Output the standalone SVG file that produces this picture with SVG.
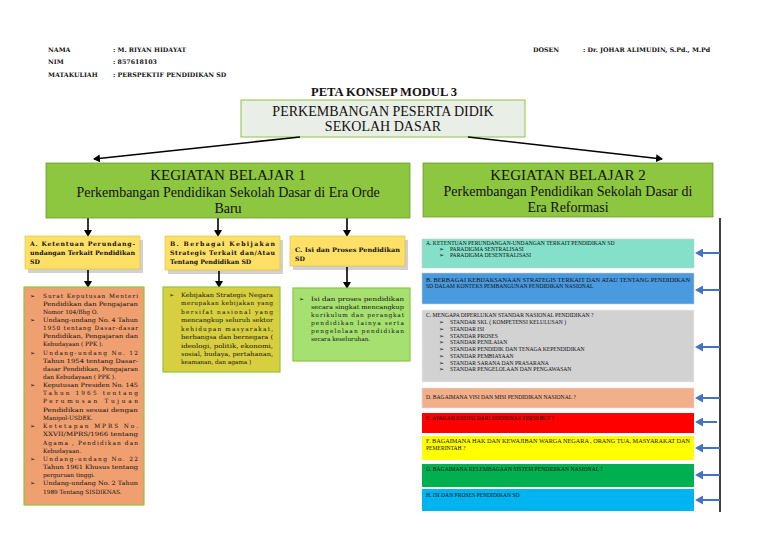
<svg xmlns="http://www.w3.org/2000/svg" width="768" height="543" viewBox="0 0 768 543">
<style>
text{font-family:"Liberation Serif","DejaVu Serif",serif;fill:#111}
.h{font-size:6.3px;font-weight:bold;font-family:"DejaVu Serif",serif}
.big{font-size:14px}
.sm{font-size:5.8px;font-family:"DejaVu Serif",serif}
.yb{font-size:6.2px;font-weight:bold;font-family:"DejaVu Serif",serif}
.r{font-size:5.6px}
.c{stroke:#000;stroke-width:1.6;fill:none}
.ba{stroke:#4472c4;stroke-width:2;fill:none}
.sh{fill:#000;opacity:.18}
</style>
<defs>
<marker id="ak" markerWidth="8" markerHeight="8" refX="6" refY="4" orient="auto" markerUnits="userSpaceOnUse"><path d="M0,0L7,4L0,8z" fill="#000"/></marker>
<marker id="ab" markerWidth="9" markerHeight="9" refX="6" refY="4.5" orient="auto" markerUnits="userSpaceOnUse"><path d="M0,0L8,4.5L0,9z" fill="#4472c4"/></marker>
</defs>
<rect width="768" height="543" fill="#fff"/>
<g id="header">
<text class="h" x="48" y="52">NAMA</text><text class="h" x="113" y="52">: M. RIYAN HIDAYAT</text>
<text class="h" x="48" y="64">NIM</text><text class="h" x="113" y="64">: 857618103</text>
<text class="h" x="48" y="77">MATAKULIAH</text><text class="h" x="113" y="77">: PERSPEKTIF PENDIDIKAN SD</text>
<text class="h" x="533" y="52">DOSEN</text><text class="h" x="583" y="52">: Dr. JOHAR ALIMUDIN, S.Pd., M.Pd</text>
<text x="384" y="96" text-anchor="middle" font-size="12" font-weight="bold" font-family="DejaVu Serif, serif" textLength="146" lengthAdjust="spacingAndGlyphs">PETA KONSEP MODUL 3</text>
</g>
<g id="root">
<rect x="241" y="100" width="284" height="37" fill="#e9eee6" stroke="#8cc63f" stroke-width="1"/>
<text class="big" x="383" y="116" text-anchor="middle">PERKEMBANGAN PESERTA DIDIK</text>
<text class="big" x="383" y="131" text-anchor="middle">SEKOLAH DASAR</text>
</g>
<g id="connectors">
<line class="c" x1="300" y1="137" x2="94" y2="159" marker-end="url(#ak)"/>
<line class="c" x1="468" y1="137" x2="662" y2="159" marker-end="url(#ak)"/>
<line class="c" x1="88" y1="218" x2="88" y2="236" marker-end="url(#ak)"/>
<line class="c" x1="218" y1="218" x2="218" y2="236" marker-end="url(#ak)"/>
<line class="c" x1="347" y1="218" x2="347" y2="236" marker-end="url(#ak)"/>
<line class="c" x1="88" y1="270" x2="88" y2="287" marker-end="url(#ak)"/>
<line class="c" x1="219" y1="271" x2="219" y2="287" marker-end="url(#ak)"/>
<line class="c" x1="347" y1="267" x2="347" y2="288" marker-end="url(#ak)"/>
<line x1="720" y1="218" x2="720" y2="512" stroke="#000" stroke-width="1.5"/>
<line class="ba" x1="720" y1="253" x2="697" y2="253" marker-end="url(#ab)"/>
<line class="ba" x1="720" y1="290" x2="697" y2="290" marker-end="url(#ab)"/>
<line class="ba" x1="720" y1="347" x2="697" y2="347" marker-end="url(#ab)"/>
<line class="ba" x1="720" y1="398" x2="697" y2="398" marker-end="url(#ab)"/>
<line class="ba" x1="717" y1="422" x2="697" y2="422" marker-end="url(#ab)"/>
<line class="ba" x1="720" y1="448" x2="697" y2="448" marker-end="url(#ab)"/>
<line class="ba" x1="720" y1="475" x2="697" y2="475" marker-end="url(#ab)"/>
<line class="ba" x1="720" y1="500" x2="697" y2="500" marker-end="url(#ab)"/>
</g>
<g id="kb1">
<rect x="46" y="163" width="364" height="55" fill="#8dc63f" stroke="#6a9a30" stroke-width="0.8"/>
<text x="228" y="180" text-anchor="middle" font-size="15">KEGIATAN BELAJAR 1</text>
<text x="228" y="197" text-anchor="middle" font-size="14">Perkembangan Pendidikan Sekolah Dasar di Era Orde</text>
<text x="228" y="213" text-anchor="middle" font-size="14">Baru</text>
</g>
<g id="kb2">
<rect x="423" y="163" width="290" height="54" fill="#8dc63f" stroke="#6a9a30" stroke-width="0.8"/>
<text x="568" y="180" text-anchor="middle" font-size="15">KEGIATAN BELAJAR 2</text>
<text x="568" y="196" text-anchor="middle" font-size="14">Perkembangan Pendidikan Sekolah Dasar di</text>
<text x="568" y="212" text-anchor="middle" font-size="14">Era Reformasi</text>
</g>
<g id="yA">
<rect class="sh" x="28" y="240" width="115" height="33"/>
<rect x="25" y="236" width="115" height="33" fill="#ffe066" stroke="#e0b830" stroke-width="0.6"/>
<text class="yb" x="30" y="246" textLength="105" lengthAdjust="spacing">A. Ketentuan Perundang-</text>
<text class="yb" x="30" y="255" textLength="105" lengthAdjust="spacingAndGlyphs">undangan Terkait Pendidikan</text>
<text class="yb" x="30" y="264">SD</text>
</g>
<g id="yB">
<rect class="sh" x="168" y="240" width="115" height="34"/>
<rect x="165" y="236" width="115" height="34" fill="#ffe066" stroke="#e0b830" stroke-width="0.6"/>
<text class="yb" x="170" y="246" textLength="105" lengthAdjust="spacing">B. Berbagai Kebijakan</text>
<text class="yb" x="170" y="255" textLength="105" lengthAdjust="spacing">Strategis Terkait dan/Atau</text>
<text class="yb" x="170" y="264">Tentang Pendidikan SD</text>
</g>
<g id="yC">
<rect class="sh" x="293" y="240" width="115" height="30"/>
<rect x="290" y="236" width="115" height="30" fill="#ffe066" stroke="#e0b830" stroke-width="0.6"/>
<text class="yb" x="295" y="252" textLength="105" lengthAdjust="spacingAndGlyphs">C. Isi dan Proses Pendidikan</text>
<text class="yb" x="295" y="261">SD</text>
</g>
<g id="boxA">
<rect x="24" y="287" width="120" height="218" fill="#f0a070" stroke="#8cc63f" stroke-width="1.2"/>
<text class="sm" x="30" y="298">➢</text><text class="sm" x="43" y="298" textLength="95" lengthAdjust="spacing">Surat Keputusan Menteri</text>
<text class="sm" x="43" y="306" textLength="95" lengthAdjust="spacingAndGlyphs">Pendidikan dan Pengajaran</text>
<text class="sm" x="43" y="314">Nomor 104/Bhg O.</text>
<text class="sm" x="30" y="322">➢</text><text class="sm" x="43" y="322" textLength="95" lengthAdjust="spacingAndGlyphs">Undang-undang No. 4 Tahun</text>
<text class="sm" x="43" y="330" textLength="95" lengthAdjust="spacing">1950 tentang Dasar-dasar</text>
<text class="sm" x="43" y="338" textLength="95" lengthAdjust="spacingAndGlyphs">Pendidikan, Pengajaran dan</text>
<text class="sm" x="43" y="346">Kebudayaan ( PPK ).</text>
<text class="sm" x="30" y="355">➢</text><text class="sm" x="43" y="355" textLength="95" lengthAdjust="spacing">Undang-undang No. 12</text>
<text class="sm" x="43" y="363" textLength="95" lengthAdjust="spacingAndGlyphs">Tahun 1954 tentang Dasar-</text>
<text class="sm" x="43" y="371" textLength="95" lengthAdjust="spacingAndGlyphs">dasar Pendidikan, Pengajaran</text>
<text class="sm" x="43" y="379">dan Kebudayaan ( PPK ).</text>
<text class="sm" x="30" y="387">➢</text><text class="sm" x="43" y="387" textLength="95" lengthAdjust="spacingAndGlyphs">Keputusan Presiden No. 145</text>
<text class="sm" x="43" y="395" textLength="95" lengthAdjust="spacing">Tahun 1965 tentang</text>
<text class="sm" x="43" y="403" textLength="95" lengthAdjust="spacing">Perumusan Tujuan</text>
<text class="sm" x="43" y="412" textLength="95" lengthAdjust="spacingAndGlyphs">Pendidikan sesuai dengan</text>
<text class="sm" x="43" y="420">Manipol-USDEK.</text>
<text class="sm" x="30" y="428">➢</text><text class="sm" x="43" y="428" textLength="95" lengthAdjust="spacing">Ketetapan MPRS No.</text>
<text class="sm" x="43" y="436" textLength="95" lengthAdjust="spacingAndGlyphs">XXVII/MPRS/1966 tentang</text>
<text class="sm" x="43" y="445" textLength="95" lengthAdjust="spacing">Agama , Pendidikan dan</text>
<text class="sm" x="43" y="453">Kebudayaan.</text>
<text class="sm" x="30" y="461">➢</text><text class="sm" x="43" y="461" textLength="95" lengthAdjust="spacing">Undang-undang No. 22</text>
<text class="sm" x="43" y="469" textLength="95" lengthAdjust="spacingAndGlyphs">Tahun 1961 Khusus tentang</text>
<text class="sm" x="43" y="477">perguruan tinggi.</text>
<text class="sm" x="30" y="485">➢</text><text class="sm" x="43" y="485" textLength="95" lengthAdjust="spacingAndGlyphs">Undang-undang No. 2 Tahun</text>
<text class="sm" x="43" y="494">1989 Tentang SISDIKNAS.</text>
</g>
<g id="boxB">
<rect x="163" y="287" width="117" height="85" fill="#d8cf40" stroke="#8cc63f" stroke-width="1.2"/>
<text class="sm" x="169" y="297">➢</text><text class="sm" x="181" y="297" textLength="92" lengthAdjust="spacingAndGlyphs">Kebijakan Strategis Negara</text>
<text class="sm" x="181" y="305" textLength="92" lengthAdjust="spacing">merupakan kebijakan yang</text>
<text class="sm" x="181" y="314" textLength="92" lengthAdjust="spacing">bersifat nasional yang</text>
<text class="sm" x="181" y="322" textLength="92" lengthAdjust="spacingAndGlyphs">mencangkup seluruh sektor</text>
<text class="sm" x="181" y="331" textLength="92" lengthAdjust="spacing">kehidupan masyarakat,</text>
<text class="sm" x="181" y="339" textLength="92" lengthAdjust="spacingAndGlyphs">berbangsa dan bernegara (</text>
<text class="sm" x="181" y="348" textLength="92" lengthAdjust="spacingAndGlyphs">ideologi, politik, ekonomi,</text>
<text class="sm" x="181" y="356" textLength="92" lengthAdjust="spacingAndGlyphs">sosial, budaya, pertahanan,</text>
<text class="sm" x="181" y="364">keamanan, dan agama )</text>
</g>
<g id="boxC">
<rect x="293" y="288" width="117" height="73" fill="#a6e070" stroke="#8cc63f" stroke-width="1.2"/>
<text class="sm" x="299" y="301">➢</text><text class="sm" x="311" y="301" textLength="93" lengthAdjust="spacingAndGlyphs">Isi dan proses pendidikan</text>
<text class="sm" x="311" y="309" textLength="93" lengthAdjust="spacingAndGlyphs">secara singkat mencangkup</text>
<text class="sm" x="311" y="317" textLength="93" lengthAdjust="spacing">kurikulum dan perangkat</text>
<text class="sm" x="311" y="325" textLength="93" lengthAdjust="spacing">pendidikan lainya serta</text>
<text class="sm" x="311" y="333" textLength="93" lengthAdjust="spacing">pengelolaan pendidikan</text>
<text class="sm" x="311" y="341">secara keseluruhan.</text>
</g>
<g id="rA">
<rect x="422" y="239" width="272" height="29" fill="#84e0c8" stroke="#ccc" stroke-width="0.6"/>
<text class="r" x="426" y="245">A. KETENTUAN PERUNDANGAN-UNDANGAN TERKAIT PENDIDIKAN SD</text>
<text class="r" x="439" y="251">➢</text><text class="r" x="450" y="251">PARADIGMA SENTRALISASI</text>
<text class="r" x="439" y="257">➢</text><text class="r" x="450" y="257">PARADIGMA DESENTRALISASI</text>
</g>
<g id="rB">
<rect x="422" y="273" width="272" height="31" fill="#4a9ae0" stroke="#ccc" stroke-width="0.6"/>
<text class="r" x="426" y="282" textLength="264" lengthAdjust="spacingAndGlyphs">B. BERBAGAI KEBIJAKSANAAN STRATEGIS TERKAIT DAN ATAU TENTANG PENDIDIKAN</text>
<text class="r" x="426" y="288">SD DALAM KONTEKS PEMBANGUNAN PENDIDIKAN NASIONAL</text>
</g>
<g id="rC">
<rect x="422" y="310" width="272" height="72" fill="#d2d2d2" stroke="#eee" stroke-width="0.6"/>
<text class="r" x="426" y="317">C. MENGAPA DIPERLUKAN STANDAR NASIONAL PENDIDIKAN ?</text>
<text class="r" x="439" y="324">➢</text><text class="r" x="450" y="324">STANDAR SKL ( KOMPETENSI KELULUSAN )</text>
<text class="r" x="439" y="331">➢</text><text class="r" x="450" y="331">STANDAR ISI</text>
<text class="r" x="439" y="338">➢</text><text class="r" x="450" y="338">STANDAR PROSES</text>
<text class="r" x="439" y="344">➢</text><text class="r" x="450" y="344">STANDAR PENILAIAN</text>
<text class="r" x="439" y="351">➢</text><text class="r" x="450" y="351">STANDAR PENDIDIK DAN TENAGA KEPENDIDIKAN</text>
<text class="r" x="439" y="358">➢</text><text class="r" x="450" y="358">STANDAR PEMBIAYAAN</text>
<text class="r" x="439" y="365">➢</text><text class="r" x="450" y="365">STANDAR SARANA DAN PRASARANA</text>
<text class="r" x="439" y="371">➢</text><text class="r" x="450" y="371">STANDAR PENGELOLAAN DAN PENGAWASAN</text>
</g>
<g id="rD">
<rect x="422" y="388" width="272" height="20" fill="#f2b08a" stroke="#ddd" stroke-width="0.6"/>
<text class="r" x="426" y="399">D. BAGAIMANA VISI DAN MISI PENDIDIKAN NASIONAL ?</text>
</g>
<g id="rE">
<rect x="422" y="413" width="272" height="20" fill="#ff0000"/>
<text class="r" x="426" y="420">E. APAKAH ESENSI DARI SISDIKNAS TERSEBUT ?</text>
</g>
<g id="rF">
<rect x="422" y="436" width="272" height="24" fill="#ffff00"/>
<text class="r" x="426" y="443" textLength="264" lengthAdjust="spacingAndGlyphs">F. BAGAIMANA HAK DAN KEWAJIBAN WARGA NEGARA , ORANG TUA, MASYARAKAT DAN</text>
<text class="r" x="426" y="450">PEMERINTAH ?</text>
</g>
<g id="rG">
<rect x="422" y="464" width="272" height="23" fill="#00b050"/>
<text class="r" x="426" y="471">G. BAGAIMANA KELEMBAGAAN SISTEM PENDIDIKAN NASIONAL ?</text>
</g>
<g id="rH">
<rect x="422" y="489" width="272" height="22" fill="#00b4f0"/>
<text class="r" x="426" y="497">H. ISI DAN PROSES PENDIDIKAN SD</text>
</g>
</svg>
